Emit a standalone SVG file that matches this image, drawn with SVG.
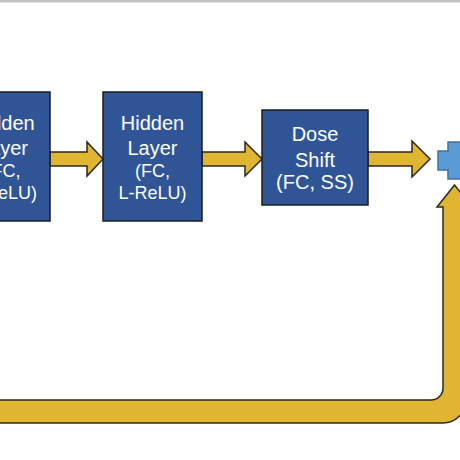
<svg xmlns="http://www.w3.org/2000/svg" width="460" height="460" viewBox="0 0 460 460">
<style>
.box{fill:#2f5597;stroke:#1c1c1c;stroke-width:1.5}
.t{font-family:"Liberation Sans",Arial,sans-serif;fill:#ffffff;text-anchor:middle}
.arr{fill:#dfb532;stroke:#2a2a1a;stroke-width:1.5;stroke-linejoin:miter}
</style>
<rect x="0" y="0" width="460" height="2.5" fill="#c3c3c3"/>
<g id="connectors">
<path class="arr" d="M50,152 H87 V142 L103,159 L87,176 V166 H50 Z"/>
<path class="arr" d="M202,152 H245 V142 L262,159 L245,176 V166 H202 Z"/>
<path class="arr" d="M368,152 H412 V141 L430,159 L412,177 V166 H368 Z"/>
<path class="arr" d="M-5,400 H431 A12,12 0 0 0 443,388 V207 H437 L454.5,185 L472,207 H466 V400 A23,23 0 0 1 443,423 H-5 Z"/>
</g>
<g id="node1">
<rect class="box" x="-49" y="92" width="99" height="129"/>
<text class="t" x="3" y="130" font-size="20">Hidden</text>
<text class="t" x="3" y="155" font-size="20">Layer</text>
<text class="t" x="3" y="177" font-size="18">(FC,</text>
<text class="t" x="3" y="199" font-size="18">L-ReLU)</text>
</g>
<g id="node2">
<rect class="box" x="103" y="92" width="99" height="129"/>
<text class="t" x="152.5" y="130" font-size="20">Hidden</text>
<text class="t" x="152.5" y="155" font-size="20">Layer</text>
<text class="t" x="152.5" y="177" font-size="18">(FC,</text>
<text class="t" x="152.5" y="199" font-size="18">L-ReLU)</text>
</g>
<g id="node3">
<rect class="box" x="262" y="110" width="106" height="95"/>
<text class="t" x="315" y="141" font-size="20">Dose</text>
<text class="t" x="315" y="167" font-size="20">Shift</text>
<text class="t" x="315" y="189" font-size="20">(FC, SS)</text>
</g>
<g id="node4">
<path d="M438,151 H448 V142 H472 V151 H482 V170 H472 V179 H448 V170 H438 Z" fill="#5b9bd5" stroke="#41719c" stroke-width="1.5"/>
</g>
</svg>
